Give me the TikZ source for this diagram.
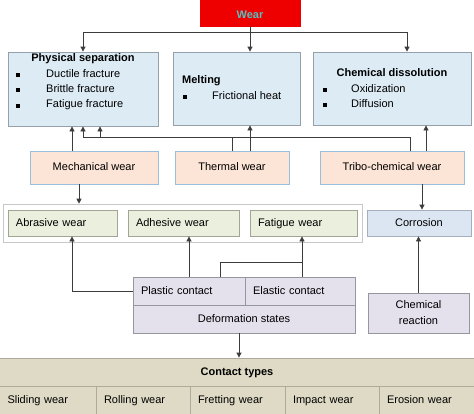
\documentclass[tikz,border=0pt]{standalone}
\usepackage{fontspec}
\setmainfont{Liberation Sans}
\usetikzlibrary{arrows.meta, calc}

\definecolor{wearred}{RGB}{238,0,0}
\definecolor{weartext}{RGB}{80,195,195}
\definecolor{mechblue}{RGB}{221,235,245}
\definecolor{mechline}{RGB}{150,160,170}
\definecolor{modepeach}{RGB}{252,229,214}
\definecolor{modeline}{RGB}{155,190,220}
\definecolor{typegreen}{RGB}{235,240,222}
\definecolor{typeline}{RGB}{160,165,150}
\definecolor{corrblue}{RGB}{220,230,242}
\definecolor{corrline}{RGB}{165,175,190}
\definecolor{statelav}{RGB}{228,224,236}
\definecolor{stateline}{RGB}{150,150,160}
\definecolor{conttan}{RGB}{222,218,197}
\definecolor{contline}{RGB}{175,170,155}
\definecolor{framegray}{RGB}{200,200,200}
\definecolor{conngray}{RGB}{60,60,60}

\tikzset{
  wearbox/.style={fill=wearred, draw=wearred, minimum width=100pt, minimum height=30pt},
  mechbox/.style={fill=mechblue, draw=mechline, line width=0.8pt, minimum height=73pt},
  modebox/.style={fill=modepeach, draw=modeline, line width=0.8pt, minimum height=33pt, text height=8pt, text depth=2pt},
  typebox/.style={fill=typegreen, draw=typeline, line width=0.8pt, minimum height=26pt, align=left, inner xsep=8pt, text height=8pt, text depth=2pt},
  corrbox/.style={fill=corrblue, draw=corrline, line width=0.8pt, minimum height=26pt, text height=8pt, text depth=2pt},
  statebox/.style={fill=statelav, draw=stateline, line width=0.8pt, minimum height=28pt},
  contbox/.style={fill=conttan, draw=contline, line width=0.8pt, minimum height=28pt, text height=8pt, text depth=2pt},
  outerframe/.style={draw=framegray, line width=0.6pt, minimum width=359pt, minimum height=38pt},
  txt/.style={inner sep=0pt, anchor=west},
  bul/.style={fill=black, inner sep=0pt, minimum size=3.2pt},
  conn/.style={draw=conngray, line width=0.8pt},
  arr/.style={conn, -{Triangle[length=5pt, width=5pt]}}
}

\begin{document}
\begin{tikzpicture}[x=1pt, y=-1pt, font=\fontsize{11}{13}\selectfont]
      \useasboundingbox (0,0) rectangle (474,413);

      % wear and mechanisms
      \node[wearbox] (wear) at (250,11) {};
      \node[font=\fontsize{11}{13}\selectfont\bfseries, text=weartext] (wearlbl) at (250,15) {Wear};

      \node[mechbox, minimum width=150pt, minimum height=74pt] (phys) at (83,89) {};
      \node[mechbox, minimum width=127pt] (melt) at (236.5,88.5) {};
      \node[mechbox, minimum width=158pt] (chem) at (392,88.5) {};

      \node[inner sep=0pt, font=\fontsize{11}{13}\selectfont\bfseries] (physlbl) at (83,59) {Physical separation};
      \node[bul] (pb1) at (18,75) {};
      \node[bul] (pb2) at (18,90) {};
      \node[bul] (pb3) at (18,106) {};
      \node[txt] (ductile) at (46,74) {Ductile fracture};
      \node[txt] (brittle) at (46,89) {Brittle fracture};
      \node[txt] (fatfrac) at (46,105) {Fatigue fracture};

      \node[txt, font=\fontsize{11}{13}\selectfont\bfseries] (meltlbl) at (182,81) {Melting};
      \node[bul] (mb1) at (185,97) {};
      \node[txt] (fricheat) at (212,96) {Frictional heat};

      \node[inner sep=0pt, font=\fontsize{11}{13}\selectfont\bfseries] (chemlbl) at (392,73) {Chemical dissolution};
      \node[bul] (cb1) at (325,90) {};
      \node[bul] (cb2) at (325,105) {};
      \node[txt] (oxid) at (351,89) {Oxidization};
      \node[txt] (diff) at (351,104) {Diffusion};

      % wear modes
      \node[modebox, minimum width=128pt] (mech) at (94,167.5) {Mechanical wear};
      \node[modebox, minimum width=114pt] (therm) at (232,167.5) {Thermal wear};
      \node[modebox, minimum width=144pt] (tribo) at (392,167.5) {Tribo-chemical wear};

      % wear types
      \node[outerframe] (types) at (182.5,223) {};
      \node[typebox, text width=93pt] (abr) at (62.5,223) {Abrasive wear};
      \node[typebox, text width=95pt] (adh) at (183.5,223) {Adhesive wear};
      \node[typebox, text width=91pt] (fat) at (303.5,223) {Fatigue wear};
      \node[corrbox, minimum width=104pt] (corr) at (419,223) {Corrosion};

      % states
      \node[statebox, minimum width=112pt, align=left, text width=96pt, inner xsep=8pt, text height=8pt, text depth=2pt] (plastic) at (189,291) {Plastic contact};
      \node[statebox, minimum width=110pt, align=left, text width=94pt, inner xsep=8pt, text height=8pt, text depth=2pt] (elastic) at (300,291) {Elastic contact};
      \node[statebox, minimum width=222pt, text height=8pt, text depth=2pt] (deform) at (244,319) {Deformation states};
      \node[statebox, minimum width=101pt, minimum height=40pt, align=center, font=\fontsize{11}{16}\selectfont] (chemr) at (418.5,313) {Chemical\\reaction};

      % contact types
      \node[contbox, minimum width=476pt] (ctypes) at (237,372) {\textbf{Contact types}};
      \node[contbox, align=left, text width=81pt, inner xsep=8pt] (slide) at (48,400) {Sliding wear};
      \node[contbox, align=left, text width=78pt, inner xsep=8pt] (roll) at (143,400) {Rolling wear};
      \node[contbox, align=left, text width=79pt, inner xsep=8pt] (fret) at (237.5,400) {Fretting wear};
      \node[contbox, align=left, text width=78pt, inner xsep=8pt] (impact) at (332,400) {Impact wear};
      \node[contbox, align=left, text width=80pt, inner xsep=8pt] (erosion) at (427,400) {Erosion wear};

      % connectors from wear
      \coordinate (split) at (250,32);
      \draw[arr] (wear.south) -- (wear.south |- melt.north);
      \draw[arr] (split) -| (phys.north);
      \draw[arr] (split) -| ([xshift=15pt]chem.north);

      % connectors from modes to mechanisms
      \draw[arr] ([xshift=-22pt]mech.north) -- ([xshift=-22pt]mech.north |- phys.south);
      \draw[arr] (therm.north) -- ++(0,-13) -| (phys.south);
      \draw[arr] ([xshift=18pt]tribo.north) -- ++(0,-13) -| ([xshift=17pt]phys.south);
      \draw[arr] ([xshift=18pt]therm.north) -- ([xshift=18pt]therm.north |- melt.south);
      \draw[arr] ([xshift=34pt]tribo.north) -- ([xshift=34pt]tribo.north |- chem.south);

      % connectors to wear types
      \draw[arr] ([xshift=-15pt]mech.south) -- ([xshift=-15pt]mech.south |- types.north);
      \draw[arr] ([xshift=30pt]tribo.south) -- ([xshift=30pt]tribo.south |- corr.north);
      \draw[arr] (plastic.west) -| ([xshift=9.5pt]abr.south);
      \draw[arr] (plastic.north) -- (plastic.north |- adh.south);
      \draw[conn] ([xshift=31pt]plastic.north) -- ++(0,-14) -| ([xshift=2pt]elastic.north);
      \draw[arr] ([xshift=2pt]elastic.north) -- ([xshift=2pt]elastic.north |- fat.south);
      \draw[arr] (chemr.north) -- (chemr.north |- corr.south);
      \draw[arr] ([xshift=-5pt]deform.south) -- ([xshift=-5pt]deform.south |- ctypes.north);
    \end{tikzpicture}
\end{document}
